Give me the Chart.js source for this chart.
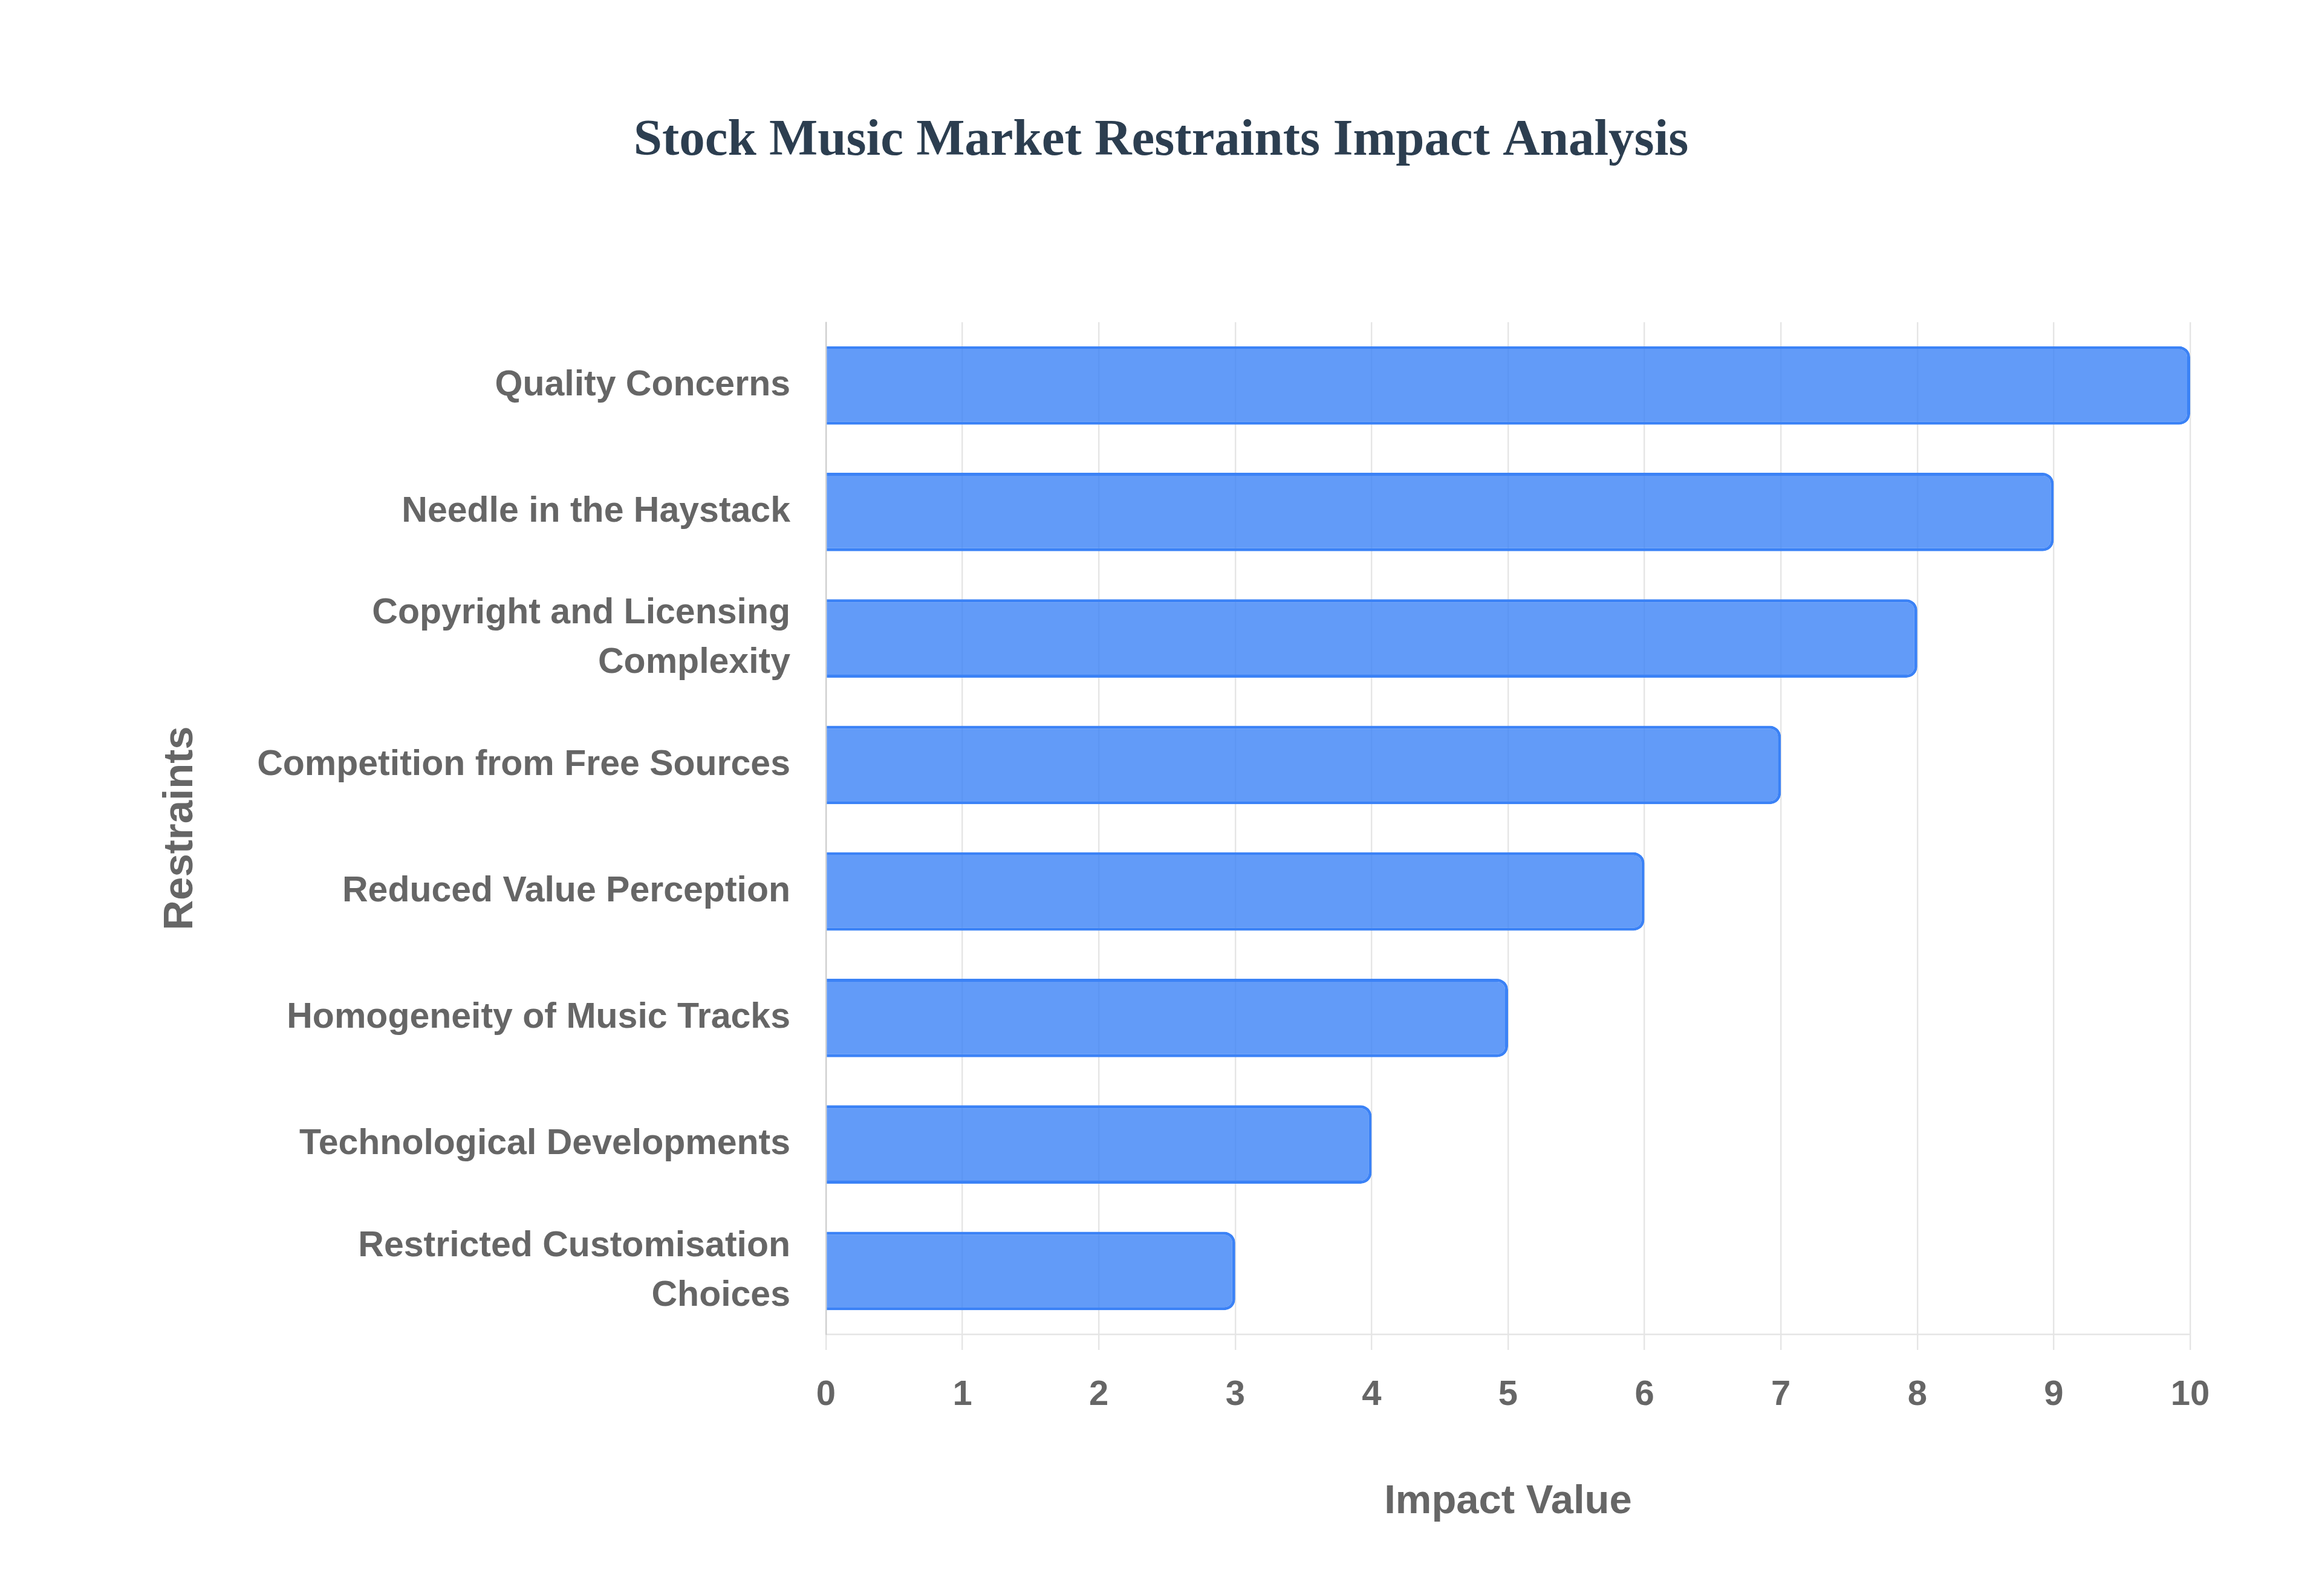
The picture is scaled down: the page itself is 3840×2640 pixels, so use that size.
<!DOCTYPE html>
<html>
<head>
<meta charset="utf-8">
<title>Stock Music Market Restraints Impact Analysis</title>
<script src="https://cdn.jsdelivr.net/npm/chart.js@4.4.1/dist/chart.umd.min.js"></script>
<style>
  html, body { margin: 0; padding: 0; background: #ffffff; }
  #wrap { width: 3840px; height: 2640px; position: relative; }
</style>
</head>
<body>
<div id="wrap"><canvas id="restraintsChart"></canvas></div>
<script>
// chart data
const restraints = [
  'Quality Concerns',
  'Needle in the Haystack',
  ['Copyright and Licensing', 'Complexity'],
  'Competition from Free Sources',
  'Reduced Value Perception',
  'Homogeneity of Music Tracks',
  'Technological Developments',
  ['Restricted Customisation', 'Choices']
];
const impactValues = [10, 9, 8, 7, 6, 5, 4, 3];
const xTicks = [0, 1, 2, 3, 4, 5, 6, 7, 8, 9, 10];

const grey = '#666666';
const gridColor = 'rgba(0, 0, 0, 0.1)';
const sans = '"Liberation Sans", Arial, sans-serif';

const ctx = document.getElementById('restraintsChart');
new Chart(ctx, {
  type: 'bar',
  data: {
    labels: restraints,
    datasets: [{
      label: 'Impact Value',
      data: impactValues,
      backgroundColor: 'rgba(59, 130, 246, 0.8)',
      borderColor: '#3b82f6',
      borderWidth: 5,
      borderRadius: 18,
      categoryPercentage: 1,
      barPercentage: 0.62
    }]
  },
  options: {
    indexAxis: 'y',
    responsive: true,
    maintainAspectRatio: false,
    devicePixelRatio: 1,
    animation: false,
    layout: { padding: 0 },
    plugins: {
      legend: { display: false },
      tooltip: { enabled: false },
      title: {
        display: true,
        text: 'Stock Music Market Restraints Impact Analysis',
        color: '#2c3e50',
        font: { family: '"Liberation Serif", "Times New Roman", serif', size: 85, weight: 'bold' },
        padding: { top: 183, bottom: 248 }
      }
    },
    scales: {
      x: {
        min: xTicks[0],
        max: xTicks[xTicks.length - 1],
        afterBuildTicks: (scale) => { scale.ticks = xTicks.map(v => ({ value: v })); },
        afterFit: (scale) => { scale.height = 433; },
        grid: { color: gridColor, lineWidth: 2.4, tickLength: 26 },
        border: { color: gridColor, width: 2.4 },
        ticks: {
          color: grey,
          padding: 40,
          font: { family: sans, size: 58, weight: 'bold' }
        },
        title: {
          display: true,
          text: 'Impact Value',
          color: grey,
          font: { family: sans, size: 67, weight: 'bold' },
          padding: { top: 0, bottom: 115 }
        }
      },
      y: {
        afterFit: (scale) => { scale.width = 1366; },
        grid: { display: false, drawTicks: false },
        border: { color: gridColor, width: 2.4 },
        ticks: {
          color: grey,
          padding: 59,
          font: { family: sans, size: 59, weight: 'bold', lineHeight: 1.39 }
        },
        title: {
          display: true,
          text: 'Restraints',
          color: grey,
          font: { family: sans, size: 69, weight: 'bold' },
          padding: { top: 258, bottom: 0 }
        }
      },
      // empty right-hand margin so the title stays centred on the page
      yRight: {
        position: 'right',
        afterFit: (scale) => { scale.width = 218; },
        grid: { display: false, drawTicks: false },
        border: { display: false },
        ticks: { display: false }
      }
    }
  }
});
</script>
</body>
</html>
